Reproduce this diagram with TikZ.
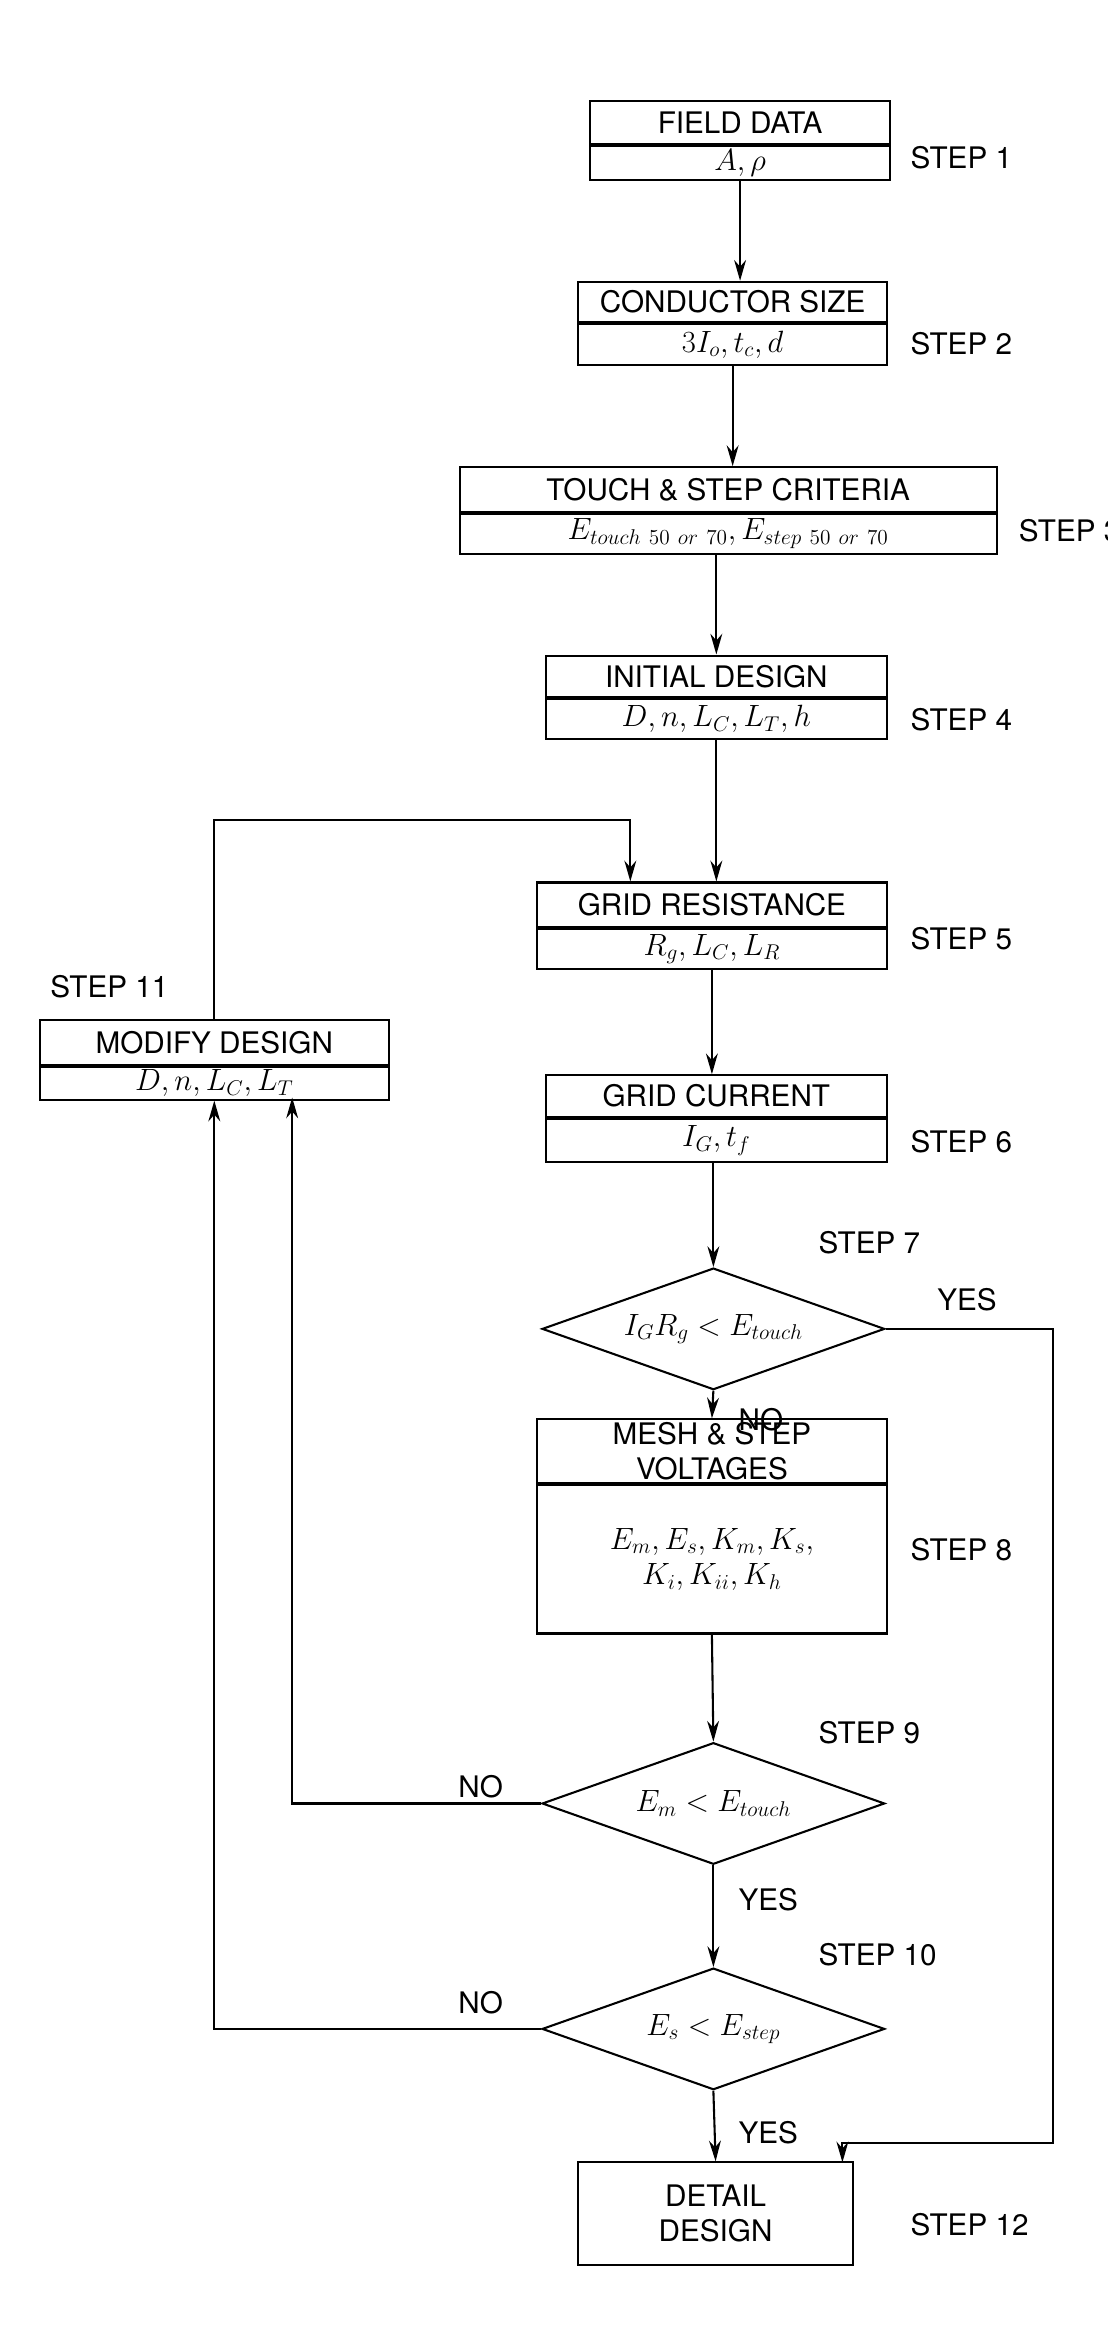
\documentclass[tikz,border=0pt]{standalone}
\usepackage{fontspec}
\setmainfont{TeX Gyre Heros}
\usetikzlibrary{positioning,shapes.geometric,arrows.meta}
\begin{document}
\begin{tikzpicture}[
        x = 1pt, y = -1pt,
        line width = 1.4pt,
        font = \fontsize{20}{24}\selectfont,
        part/.style = {
            draw,
            rectangle,
            inner sep = 0pt,
            align = center,
        },
        dec/.style = {
            draw,
            diamond,
            aspect = 2.8,
            inner sep = 0pt,
            minimum width = 231,
            minimum height = 82,
        },
        lbl/.style = {anchor = west},
        flow/.style = {-{Stealth[length=14pt,width=8pt]}},
    ]
    \useasboundingbox (0,0) rectangle (747,1569);

    % boxes
    \node[part,minimum width=202,minimum height=29] (t1) at (499,82.5) {FIELD DATA};
    \node[part,minimum width=202,minimum height=23,below=0pt of t1] (b1) {$A,\rho$};

    \node[part,minimum width=208,minimum height=27] (t2) at (494,203.5) {CONDUCTOR SIZE};
    \node[part,minimum width=208,minimum height=28,below=0pt of t2] (b2) {$3I_o,t_c,d$};

    \node[part,minimum width=362,minimum height=30] (t3) at (491,330) {TOUCH \& STEP CRITERIA};
    \node[part,minimum width=362,minimum height=27,below=0pt of t3] (b3)
        {$E_{touch\ 50\ or\ 70},E_{step\ 50\ or\ 70}$};

    \node[part,minimum width=230,minimum height=28] (t4) at (483,456) {INITIAL DESIGN};
    \node[part,minimum width=230,minimum height=27,below=0pt of t4] (b4) {$D,n,L_C,L_T,h$};

    \node[part,minimum width=236,minimum height=30] (t5) at (480,610) {GRID RESISTANCE};
    \node[part,minimum width=236,minimum height=27,below=0pt of t5] (b5) {$R_g,L_C,L_R$};

    \node[part,minimum width=230,minimum height=28] (t6) at (483,739) {GRID CURRENT};
    \node[part,minimum width=230,minimum height=29,below=0pt of t6] (b6) {$I_G,t_f$};

    \node[part,minimum width=235,minimum height=30] (t11) at (144.5,703) {MODIFY DESIGN};
    \node[part,minimum width=235,minimum height=22,below=0pt of t11] (b11) {$D,n,L_C,L_T$};

    \node[dec] (d7) at (481,896) {$I_GR_g<E_{touch}$};

    \node[part,minimum width=236,minimum height=43] (t8) at (480,978.5) {MESH \& STEP\\VOLTAGES};
    \node[part,minimum width=236,minimum height=100,below=0pt of t8] (b8)
        {$E_m,E_s,K_m,K_s,$\\$K_i,K_{ii},K_h$};

    \node[dec] (d9) at (481,1216) {$E_m<E_{touch}$};
    \node[dec] (d10) at (481,1368) {$E_s<E_{step}$};

    \node[part,minimum width=185,minimum height=69] (t12) at (482.5,1492.5) {DETAIL\\DESIGN};

    % step labels
    \node[lbl] (s1) at (610,106) {STEP 1};
    \node[lbl] (s2) at (610,232) {STEP 2};
    \node[lbl] (s3) at (683,358) {STEP 3};
    \node[lbl] (s4) at (610,485) {STEP 4};
    \node[lbl] (s5) at (610,633) {STEP 5};
    \node[lbl] (s6) at (610,770) {STEP 6};
    \node[lbl] (s11) at (30,665) {STEP 11};
    \node[lbl] (s7) at (548,838) {STEP 7};
    \node[lbl] (s8) at (610,1045) {STEP 8};
    \node[lbl] (s9) at (548,1168) {STEP 9};
    \node[lbl] (s10) at (548,1318) {STEP 10};
    \node[lbl] (s12) at (610,1500) {STEP 12};

    % answers
    \node[lbl] (a7) at (628,876) {YES};
    \node[lbl] (n7) at (494,957) {NO};
    \node[lbl] (n9) at (305,1205) {NO};
    \node[lbl] (a9) at (494,1281) {YES};
    \node[lbl] (n10) at (305,1350) {NO};
    \node[lbl] (a10) at (494,1438) {YES};

    % connectors
    \draw[flow] (b1.south) -- (b1.south |- t2.north);
    \draw[flow] (b2.south) -- (b2.south |- t3.north);
    \draw[flow] (t4.north |- b3.south) -- (t4.north);
    \draw[flow] (b4.south) -- (b4.south |- t5.north);
    \draw[flow] (b5.south) -- (b5.south |- t6.north);
    \draw[flow] (d7.north |- b6.south) -- (d7.north);
    \draw[flow] (d7.south) -- (t8.north);
    \draw[flow] (b8.south) -- (d9.north);
    \draw[flow] (d9.south) -- (d10.north);
    \draw[flow] (d10.south) -- (t12.north);

    \coordinate (lp) at (425,553);
    \draw[flow] (t11.north) |- (lp) -- (lp |- t5.north);

    \coordinate (m9) at (197,740);
    \draw[flow] (d9.west) -| (m9);
    \draw[flow] (d10.west) -| (b11.south);

    \coordinate (y7) at (710,1445);
    \coordinate (y12) at (568,1458);
    \draw[flow] (d7.east) -| (y7) -| (y12);
\end{tikzpicture}
\end{document}
